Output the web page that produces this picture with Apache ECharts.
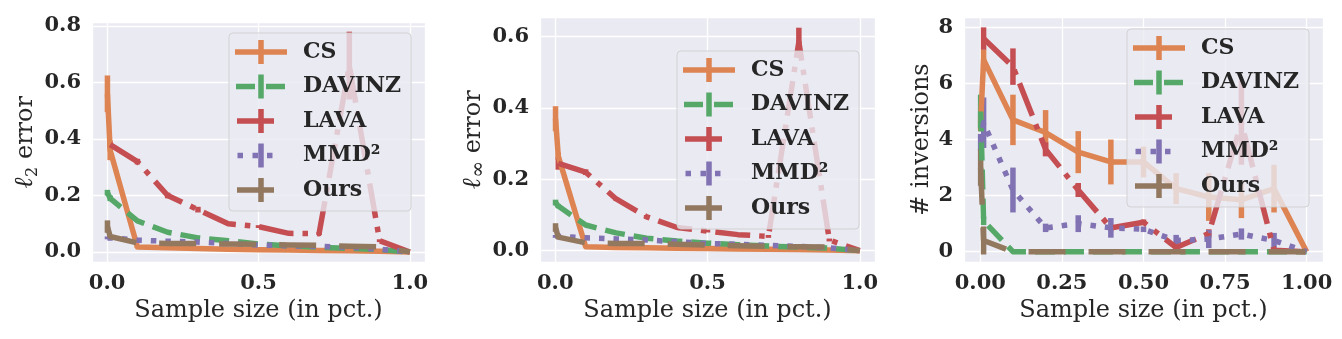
<!DOCTYPE html>
<html>
<head><meta charset="utf-8"></head>
<script type="text/javascript" src="https://cdn.jsdelivr.net/npm/echarts@6/dist/echarts.min.js"></script>
<body style="margin:0;background-color:#ffffff;">
    <div id="main" style="width:1342px;height:339px;"></div>
</body>

<script type="text/javascript">
// sample sizes (fraction of the data)
var xs = [0.001, 0.01, 0.1, 0.2, 0.3, 0.4, 0.5, 0.6, 0.7, 0.8, 0.9, 1.0];
var names = ['CS', 'DAVINZ', 'LAVA', 'MMD²', 'Ours'];

// panel 1 : l2 error
var l2_cs      = [0.56, 0.36, 0.018, 0.015, 0.012, 0.01, 0.008, 0.007, 0.005, 0.004, 0.003, 0.0];
var l2_cs_err  = [0.065, 0.035, 0.004, 0, 0, 0, 0, 0, 0, 0, 0, 0];
var l2_dav     = [0.21, 0.19, 0.11, 0.07, 0.05, 0.04, 0.028, 0.022, 0.017, 0.013, 0.009, 0.0];
var l2_dav_err = [0.01, 0.01, 0, 0, 0, 0, 0, 0, 0, 0, 0, 0];
var l2_lava    = [null, 0.38, 0.32, 0.2, 0.15, 0.1, 0.09, 0.066, 0.065, 0.66, 0.04, 0.0];
var l2_lava_err= [0, 0.01, 0.01, 0.01, 0.01, 0.005, 0.005, 0.005, 0.005, 0.12, 0.005, 0];
var l2_mmd     = [0.05, 0.05, 0.042, 0.038, 0.035, 0.03, 0.025, 0.022, 0.02, 0.017, 0.01, 0.0];
var l2_mmd_err = [0.005, 0.005, 0, 0, 0, 0, 0, 0, 0, 0, 0, 0];
var l2_ours    = [0.09, 0.055, 0.032, 0.03, 0.03, 0.028, 0.027, 0.025, 0.024, 0.02, 0.018, 0.0];
var l2_ours_err= [0.022, 0.005, 0, 0, 0, 0, 0, 0, 0, 0, 0, 0];

// panel 2 : l-inf error
var li_cs      = [0.37, 0.265, 0.011, 0.009, 0.008, 0.007, 0.006, 0.005, 0.004, 0.003, 0.002, 0.0];
var li_cs_err  = [0.035, 0.01, 0.002, 0, 0, 0, 0, 0, 0, 0, 0, 0];
var li_dav     = [0.135, 0.125, 0.072, 0.05, 0.035, 0.027, 0.021, 0.017, 0.013, 0.01, 0.007, 0.0];
var li_dav_err = [0.008, 0.006, 0, 0, 0, 0, 0, 0, 0, 0, 0, 0];
var li_lava    = [null, 0.245, 0.22, 0.145, 0.095, 0.065, 0.055, 0.045, 0.04, 0.585, 0.03, 0.0];
var li_lava_err= [0, 0.018, 0.008, 0.005, 0.005, 0.004, 0.004, 0.004, 0.004, 0.04, 0.004, 0];
var li_mmd     = [0.04, 0.04, 0.036, 0.033, 0.03, 0.025, 0.02, 0.018, 0.015, 0.012, 0.008, 0.0];
var li_mmd_err = [0.004, 0.004, 0, 0, 0, 0, 0, 0, 0, 0, 0, 0];
var li_ours    = [0.065, 0.038, 0.022, 0.02, 0.02, 0.018, 0.016, 0.014, 0.012, 0.011, 0.01, 0.0];
var li_ours_err= [0.012, 0.004, 0, 0, 0, 0, 0, 0, 0, 0, 0, 0];

// panel 3 : number of inversions
var inv_cs      = [4.6, 6.85, 4.7, 4.25, 3.55, 3.2, 3.2, 2.25, 1.95, 1.85, 2.25, 0];
var inv_cs_err  = [0.3, 0.35, 0.9, 0.8, 0.75, 0.8, 0.55, 0.55, 0.85, 0.65, 0.85, 0];
var inv_dav     = [5.0, 1.1, 0, 0, 0, 0, 0, 0, 0, 0, 0, 0];
var inv_dav_err = [0.6, 0.15, 0, 0, 0, 0, 0, 0, 0, 0, 0, 0];
var inv_lava    = [null, 7.6, 6.6, 3.65, 2.2, 0.85, 1.05, 0.15, 0.65, 4.6, 0.05, 0];
var inv_lava_err= [0, 0.4, 0.65, 0.25, 0.25, 0.1, 0.1, 0.1, 0.15, 1.5, 0.05, 0];
var inv_mmd     = [3.9, 4.6, 2.2, 0.85, 1.0, 0.85, 0.8, 0.4, 0.45, 0.63, 0.4, 0];
var inv_mmd_err = [0.3, 0.9, 0.8, 0.15, 0.3, 0.35, 0.1, 0.2, 0.32, 0.2, 0.27, 0];
var inv_ours    = [3.0, 0.4, 0, 0, 0, 0, 0, 0, 0, 0, 0, 0];
var inv_ours_err= [0.65, 0.5, 0, 0, 0, 0, 0, 0, 0, 0, 0, 0];

var panels = [
    {vals: [l2_cs, l2_dav, l2_lava, l2_mmd, l2_ours], errs: [l2_cs_err, l2_dav_err, l2_lava_err, l2_mmd_err, l2_ours_err]},
    {vals: [li_cs, li_dav, li_lava, li_mmd, li_ours], errs: [li_cs_err, li_dav_err, li_lava_err, li_mmd_err, li_ours_err]},
    {vals: [inv_cs, inv_dav, inv_lava, inv_mmd, inv_ours], errs: [inv_cs_err, inv_dav_err, inv_lava_err, inv_mmd_err, inv_ours_err]}
];

var colors = ['#dd8452', '#55a868', '#c44e52', '#8172b3', '#937860'];
var LW = 5.5;
var dashes = ['solid', [20, 9], [35, 9, 5.5, 9], [5.5, 9], [37, 23]];
var FONT = "'DejaVu Serif', serif";
var INK = '#262626';

// legend handles: line pattern with a vertical error bar in the middle
var box = 'M0,0 M63,24 ';
var bar = ' M23.25,0 L28.75,0 L28.75,24 L23.25,24 Z';
function seg(a, b) { return ' M' + a + ',9.25 L' + b + ',9.25 L' + b + ',14.75 L' + a + ',14.75 Z'; }
var icons = [
    'path://' + box + seg(0, 52) + bar,
    'path://' + box + seg(1, 20) + seg(31, 50) + bar,
    'path://' + box + seg(2, 39) + bar,
    'path://' + box + seg(2.5, 8) + seg(17.5, 23) + seg(32, 37.5) + bar,
    'path://' + box + seg(2, 39) + bar
];

function errRender(params, api) {
    var p1 = api.coord([api.value(0), api.value(1)]);
    var p2 = api.coord([api.value(0), api.value(2)]);
    return {
        type: 'line',
        shape: {x1: p1[0], y1: p1[1], x2: p2[0], y2: p2[1]},
        style: {stroke: api.visual('color'), lineWidth: LW}
    };
}

function tickFmt(step, digits) {
    return function (v) {
        var k = v / step;
        if (Math.abs(k - Math.round(k)) > 1e-6) return '';
        return v.toFixed(digits);
    };
}

var grids = [
    {left: 92, top: 22, width: 333, height: 240},
    {left: 540, top: 17, width: 335, height: 245},
    {left: 964, top: 17, width: 359, height: 245}
];
var yRange = [[-0.0354, 0.8142], [-0.0317, 0.655], [-0.367, 8.37]];
var yStep = [0.2, 0.2, 2];
var yDigits = [1, 1, 0];
var xStep = [0.5, 0.5, 0.25];
var xDigits = [1, 1, 2];
var yNames = ['{l|ℓ}{s|2}{t| error}', '{l|ℓ}{si|∞}{t| error}', '{t|# inversions}'];
var yGaps = [46, 49, 27];
var legendPos = [[229, 33], [677, 51], [1127, 29]];

var labelStyle = {fontFamily: FONT, fontWeight: 'bold', fontSize: 21, color: INK};
var split = {show: true, lineStyle: {color: '#ffffff', width: 1.3}};

var option = {
    animation: false,
    backgroundColor: '#ffffff',
    grid: [], xAxis: [], yAxis: [], legend: [], series: []
};

for (var p = 0; p < 3; p++) {
    var g = grids[p];
    option.grid.push({left: g.left, top: g.top, width: g.width, height: g.height,
        show: true, backgroundColor: '#eaeaf2', borderWidth: 0, outerBoundsMode: 'none'});
    option.xAxis.push({
        type: 'value', gridIndex: p, min: -0.05, max: 1.05,
        minInterval: xStep[p], maxInterval: xStep[p],
        axisLine: {show: false}, axisTick: {show: false}, splitLine: split,
        axisLabel: Object.assign({margin: 11, formatter: tickFmt(xStep[p], xDigits[p]),
            showMinLabel: false, showMaxLabel: false}, labelStyle),
        name: 'Sample size (in pct.)', nameLocation: 'middle', nameGap: 32,
        nameTextStyle: {fontFamily: FONT, fontSize: 24, color: INK}
    });
    option.yAxis.push({
        type: 'value', gridIndex: p, min: yRange[p][0], max: yRange[p][1],
        minInterval: yStep[p], maxInterval: yStep[p],
        axisLine: {show: false}, axisTick: {show: false}, splitLine: split,
        axisLabel: Object.assign({margin: 11, formatter: tickFmt(yStep[p], yDigits[p]),
            showMinLabel: false, showMaxLabel: false}, labelStyle),
        name: yNames[p], nameLocation: 'middle', nameGap: yGaps[p],
        nameTextStyle: {
            fontFamily: FONT, fontSize: 24, color: INK,
            rich: {
                l: {fontFamily: FONT, fontStyle: 'italic', fontWeight: 'bold', fontSize: 26, color: INK, lineHeight: 30},
                s: {fontFamily: FONT, fontSize: 16, color: INK, lineHeight: 14, verticalAlign: 'bottom'},
                si: {fontFamily: FONT, fontSize: 20, color: INK, lineHeight: 16, verticalAlign: 'bottom'},
                t: {fontFamily: FONT, fontSize: 24, color: INK, lineHeight: 30}
            }
        }
    });
    option.legend.push({
        orient: 'vertical', left: legendPos[p][0], top: legendPos[p][1],
        padding: [7, 10, 9, 6], itemGap: 10.5, itemWidth: 63, itemHeight: 24,
        backgroundColor: 'rgba(234,234,242,0.8)', borderColor: 'rgba(204,204,204,0.8)',
        borderWidth: 1, borderRadius: 4, selectedMode: false,
        itemStyle: {borderWidth: 0},
        textStyle: {fontFamily: FONT, fontWeight: 'bold', fontSize: 22, color: INK},
        data: names.map(function (n, i) { return {name: n, icon: icons[i]}; })
    });

    for (var s = 0; s < 5; s++) {
        var vals = panels[p].vals[s], errs = panels[p].errs[s];
        option.series.push({
            type: 'line', name: names[s], xAxisIndex: p, yAxisIndex: p,
            data: xs.map(function (x, i) { return [x, vals[i]]; }),
            symbol: 'none', showSymbol: false, silent: true,
            itemStyle: {color: colors[s]},
            lineStyle: {color: colors[s], width: LW, type: dashes[s], join: 'round', cap: 'butt'}
        });
        var bars = [];
        for (var i = 0; i < xs.length; i++) {
            if (vals[i] !== null && errs[i] > 0) bars.push([xs[i], vals[i] - errs[i], vals[i] + errs[i]]);
        }
        option.series.push({
            type: 'custom', name: names[s] + ' err', xAxisIndex: p, yAxisIndex: p,
            renderItem: errRender, data: bars, encode: {x: 0, y: [1, 2]},
            itemStyle: {color: colors[s]}, silent: true
        });
    }
}

var myChart = echarts.init(document.getElementById('main'));
myChart.setOption(option);
</script>
</html>
